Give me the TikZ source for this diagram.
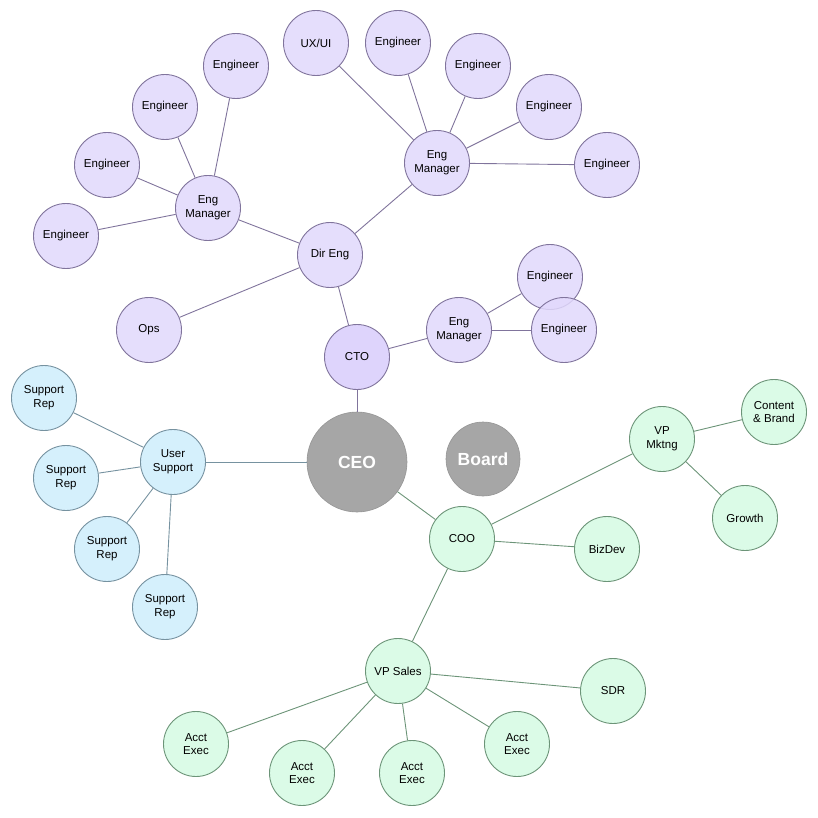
\documentclass[tikz,border=0pt]{standalone}
\usepackage{fontspec}
\setmainfont{Liberation Sans}
\definecolor{purfill}{RGB}{225,216,252}
\definecolor{ctofill}{RGB}{216,204,251}
\definecolor{purline}{RGB}{128,116,156}
\definecolor{bluefill}{RGB}{206,237,252}
\definecolor{blueline}{RGB}{118,146,160}
\definecolor{grnfill}{RGB}{213,250,227}
\definecolor{grnline}{RGB}{108,148,120}
\definecolor{boss}{RGB}{166,166,166}
\tikzset{
  person/.style={circle, minimum size=65pt, inner sep=0pt, line width=0.9pt, align=center,
    font=\fontsize{11.5}{13.7}\selectfont, fill opacity=0.85, text opacity=1},
  tech/.style={person, draw=purline, fill=purfill},
  help/.style={person, draw=blueline, fill=bluefill},
  ops/.style={person, draw=grnline, fill=grnfill},
  top/.style={circle, inner sep=0pt, draw=boss!90!black, line width=0.6pt, fill=boss,
    text=white, font=\fontsize{17.5}{20}\selectfont\bfseries},
  tline/.style={draw=purline, line width=0.9pt},
  hline/.style={draw=blueline, line width=0.9pt},
  oline/.style={draw=grnline, line width=0.9pt}
}
\begin{document}
\begin{tikzpicture}[x=1pt, y=-1pt]
  \useasboundingbox (0,0) rectangle (818,818);
  % top
  \node[top, minimum size=100pt] (ceo) at (357,462) {CEO};
  \node[top, minimum size=74pt] (board) at (483,459) {Board};
  % engineering
  \node[tech, fill=ctofill] (cto) at (357,357) {CTO};
  \node[tech] (dir) at (330,255) {Dir Eng};
  \node[tech] (ops) at (149,330) {Ops};
  \node[tech] (mgra) at (208,208) {Eng\\Manager};
  \node[tech] (mgrb) at (437,163) {Eng\\Manager};
  \node[tech] (mgrc) at (459,330) {Eng\\Manager};
  \node[tech] (ea1) at (236,66) {Engineer};
  \node[tech] (ea2) at (165,107) {Engineer};
  \node[tech] (ea3) at (107,165) {Engineer};
  \node[tech] (ea4) at (66,236) {Engineer};
  \node[tech] (ux) at (316,43) {UX/UI};
  \node[tech] (eb1) at (398,43) {Engineer};
  \node[tech] (eb2) at (478,66) {Engineer};
  \node[tech] (eb3) at (549,107) {Engineer};
  \node[tech] (eb4) at (607,165) {Engineer};
  \node[tech] (ec1) at (550,277) {Engineer};
  \node[tech] (ec2) at (564,330) {Engineer};
  % support
  \node[help] (sup) at (173,462) {User\\Support};
  \node[help] (rep1) at (44,398) {Support\\Rep};
  \node[help] (rep2) at (66,478) {Support\\Rep};
  \node[help] (rep3) at (107,549) {Support\\Rep};
  \node[help] (rep4) at (165,607) {Support\\Rep};
  % operations
  \node[ops] (coo) at (462,539) {COO};
  \node[ops] (biz) at (607,549) {BizDev};
  \node[ops] (mkt) at (662,439) {VP\\Mktng};
  \node[ops] (brand) at (774,412) {Content\\\& Brand};
  \node[ops] (grow) at (745,518) {Growth};
  \node[ops] (sales) at (398,671) {VP Sales};
  \node[ops] (sdr) at (613,691) {SDR};
  \node[ops] (ae1) at (196,744) {Acct\\Exec};
  \node[ops] (ae2) at (302,773) {Acct\\Exec};
  \node[ops] (ae3) at (412,773) {Acct\\Exec};
  \node[ops] (ae4) at (517,744) {Acct\\Exec};

  \draw[tline] (ceo) -- (cto);
  \draw[tline] (cto) -- (dir);
  \draw[tline] (cto) -- (mgrc);
  \draw[tline] (dir) -- (ops);
  \draw[tline] (dir) -- (mgra);
  \draw[tline] (dir) -- (mgrb);
  \draw[tline] (mgra) -- (ea1);
  \draw[tline] (mgra) -- (ea2);
  \draw[tline] (mgra) -- (ea3);
  \draw[tline] (mgra) -- (ea4);
  \draw[tline] (mgrb) -- (ux);
  \draw[tline] (mgrb) -- (eb1);
  \draw[tline] (mgrb) -- (eb2);
  \draw[tline] (mgrb) -- (eb3);
  \draw[tline] (mgrb) -- (eb4);
  \draw[tline] (mgrc) -- (ec1);
  \draw[tline] (mgrc) -- (ec2);

  \draw[hline] (ceo) -- (sup);
  \draw[hline] (sup) -- (rep1);
  \draw[hline] (sup) -- (rep2);
  \draw[hline] (sup) -- (rep3);
  \draw[hline] (sup) -- (rep4);

  \draw[oline] (ceo) -- (coo);
  \draw[oline] (coo) -- (mkt);
  \draw[oline] (coo) -- (biz);
  \draw[oline] (coo) -- (sales);
  \draw[oline] (mkt) -- (brand);
  \draw[oline] (mkt) -- (grow);
  \draw[oline] (sales) -- (sdr);
  \draw[oline] (sales) -- (ae1);
  \draw[oline] (sales) -- (ae2);
  \draw[oline] (sales) -- (ae3);
  \draw[oline] (sales) -- (ae4);
\end{tikzpicture}
\end{document}
